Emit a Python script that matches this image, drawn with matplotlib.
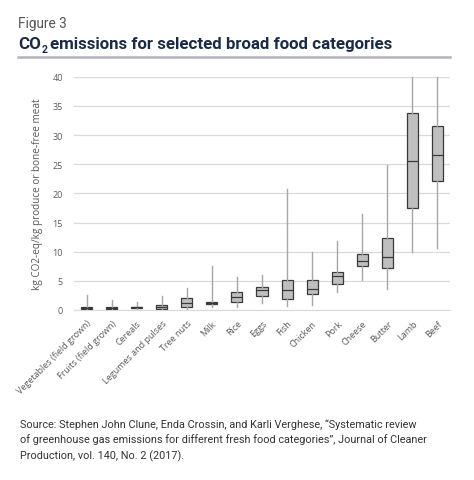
import matplotlib
matplotlib.use("Agg")
import matplotlib.pyplot as plt

categories = ["Vegetables (field grown)", "Fruits (field grown)", "Cereals",
              "Legumes and pulses", "Tree nuts", "Milk", "Rice", "Eggs", "Fish",
              "Chicken", "Pork", "Cheese", "Butter", "Lamb", "Beef"]
whisker_low = [0.0, 0.0, 0.05, 0.05, 0.0, 0.45, 0.5, 1.25, 0.7, 0.9, 3.15, 5.15, 3.55, 9.95, 10.65]
q1 = [0.2, 0.25, 0.3, 0.25, 0.45, 1.0, 1.45, 2.35, 1.9, 2.7, 4.45, 7.6, 7.15, 17.55, 22.15]
median = [0.4, 0.4, 0.45, 0.55, 1.25, 1.25, 2.3, 3.4, 3.4, 3.65, 5.8, 8.45, 9.15, 25.5, 26.6]
q3 = [0.55, 0.55, 0.55, 0.8, 2.05, 1.45, 3.05, 4.0, 5.1, 5.2, 6.45, 9.55, 12.4, 33.8, 31.6]
whisker_high = [2.5, 1.7, 1.4, 2.4, 3.8, 7.5, 5.7, 5.95, 20.8, 10.0, 11.8, 16.4, 24.8, 40.0, 40.0]
y_ticks = [0, 5, 10, 15, 20, 25, 30, 35, 40]

W, H = 474, 481
fig = plt.figure(figsize=(W / 100, H / 100), dpi=100)
fig.patch.set_facecolor("white")

ax = fig.add_axes([74 / W, 1 - 311 / H, (450 - 74) / W, (311 - 77.7) / H])
stats = []
for i, c in enumerate(categories):
    stats.append(dict(label=c, whislo=whisker_low[i], q1=q1[i], med=median[i],
                      q3=q3[i], whishi=whisker_high[i], fliers=[]))
ax.bxp(stats, positions=range(len(categories)), widths=0.44, patch_artist=True,
       showcaps=False, showfliers=False,
       boxprops=dict(facecolor="#bfbfbf", edgecolor="#3a3a3a", linewidth=0.9),
       medianprops=dict(color="#3a3a3a", linewidth=0.9),
       whiskerprops=dict(color="#a6a6a6", linewidth=1.0), zorder=3)

ax.set_xlim(-0.5, len(categories) - 0.5)
ax.set_ylim(0, 40)
ax.set_yticks(y_ticks)
ax.set_yticklabels([str(t) for t in y_ticks], fontsize=6.5, color="#595959", family="Open Sans")
ax.yaxis.grid(True, color="#d9d9d9", linewidth=0.9, zorder=0)
ax.set_axisbelow(True)
ax.tick_params(axis="both", length=0, pad=8)
for s in ["top", "right", "left"]:
    ax.spines[s].set_visible(False)
ax.spines["bottom"].set_color("#d9d9d9")
ax.set_xticks(range(len(categories)))
ax.set_xticklabels(categories, rotation=45, ha="right", rotation_mode="anchor",
                   fontsize=6.5, color="#595959", family="Open Sans")
ax.tick_params(axis="x", pad=6)
ax.set_ylabel("kg CO2-eq/kg produce or bone-free meat", fontsize=7.2,
              color="#595959", family="Open Sans")
ax.yaxis.set_label_coords(-0.083, 0.5)

# Header
fig.text(18 / W, 1 - 28 / H, "Figure 3", fontsize=9.8, color="#555555",
         family="Roboto", va="baseline")
title_color = "#1c2b45"
tsize = 12.2
fig.canvas.draw()
r = fig.canvas.get_renderer()
t1 = fig.text(18 / W, 1 - 49 / H, "CO", fontsize=tsize, fontweight="bold",
              color=title_color, family="Roboto", va="baseline")
bb = t1.get_window_extent(r)
t2 = fig.text((bb.x1 + 0.5) / W, 1 - 53 / H, "2", fontsize=7.5, fontweight="bold",
              color=title_color, family="Roboto", va="baseline")
bb2 = t2.get_window_extent(r)
fig.text((bb2.x1 + 3) / W, 1 - 49 / H, "emissions for selected broad food categories",
         fontsize=tsize, fontweight="bold", color=title_color, family="Roboto",
         va="baseline")
fig.add_artist(plt.Line2D([18 / W, 450 / W], [1 - 58 / H, 1 - 58 / H],
                          color="#b3b3b8", linewidth=1.8, transform=fig.transFigure))

src = ("Source: Stephen John Clune, Enda Crossin, and Karli Verghese, \u201cSystematic review\n"
       "of greenhouse gas emissions for different fresh food categories\u201d, Journal of Cleaner\n"
       "Production, vol. 140, No. 2 (2017).")
fig.text(20 / W, 1 - 419 / H, src, fontsize=7.85, color="#333333", family="Roboto",
         va="top", linespacing=1.55)

fig.savefig("out.png", dpi=100, facecolor="white")
